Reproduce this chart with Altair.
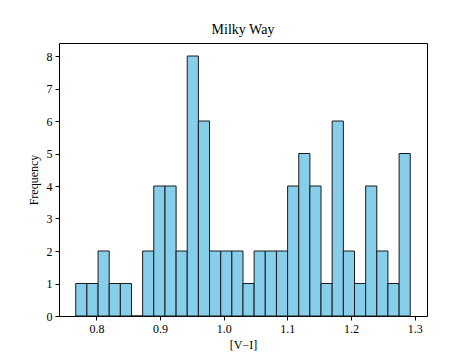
import altair as alt
import pandas as pd

bin_edges = [0.7675, 0.7850, 0.8026, 0.8201, 0.8376, 0.8551, 0.8726, 0.8901,
             0.9077, 0.9252, 0.9427, 0.9602, 0.9777, 0.9953, 1.0128, 1.0303,
             1.0478, 1.0653, 1.0829, 1.1004, 1.1179, 1.1354, 1.1529, 1.1704,
             1.1880, 1.2055, 1.2230, 1.2405, 1.2580, 1.2756, 1.2931]
counts = [1, 1, 2, 1, 1, 0, 2, 4, 4, 2, 8, 6, 2, 2, 2, 1, 2, 2, 2, 4,
          5, 4, 1, 6, 2, 1, 4, 2, 1, 5]
x_ticks = [0.8, 0.9, 1.0, 1.1, 1.2, 1.3]
y_ticks = [0, 1, 2, 3, 4, 5, 6, 7, 8]

df = pd.DataFrame({
    "lo": bin_edges[:-1],
    "hi": bin_edges[1:],
    "count": counts,
    "base": [0] * len(counts),
})

FONT = "Liberation Serif"

chart = alt.Chart(df).mark_bar(
    color="#87CEEB", stroke="#1a1a1a", strokeWidth=1
).encode(
    x=alt.X("lo:Q",
            scale=alt.Scale(domain=[0.7412, 1.3194], nice=False, zero=False),
            axis=alt.Axis(values=x_ticks, format=".1f", title="[V\u2212I]",
                          grid=False, domain=False, tickSize=4, tickColor="#000",
                          labelPadding=3, titlePadding=5, labelFlush=False,
                          labelFont=FONT, titleFont=FONT, labelFontSize=12,
                          titleFontSize=12)),
    x2="hi:Q",
    y=alt.Y("count:Q",
            scale=alt.Scale(domain=[0, 8.4], nice=False),
            axis=alt.Axis(values=y_ticks, format="d", title="Frequency",
                          grid=False, domain=False, tickSize=4, tickColor="#000",
                          labelPadding=3, titlePadding=6, labelFlush=False,
                          labelFont=FONT, titleFont=FONT, labelFontSize=12,
                          titleFontSize=12)),
    y2="base:Q",
).properties(
    width=368,
    height=273,
    title=alt.TitleParams("Milky Way", fontSize=14, font=FONT, fontWeight="normal",
                          color="#000", offset=6),
    autosize=alt.AutoSizeParams(type="none"),
    padding={"left": 59, "top": 43, "right": 47, "bottom": 39},
).configure_view(
    stroke="#000", strokeWidth=1
).configure_axis(
    labelColor="#000", titleColor="#000", titleFontWeight="normal"
)

chart.save("out.html", embed_options={"renderer": "svg", "actions": False})
